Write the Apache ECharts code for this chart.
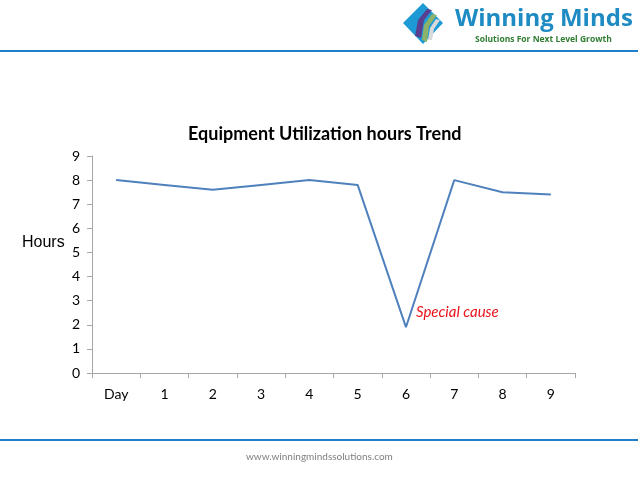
<!DOCTYPE html>
<html>
<head>
<meta charset="utf-8">
<script src="https://cdn.jsdelivr.net/npm/echarts@6/dist/echarts.min.js"></script>
<style>html,body{margin:0;padding:0;background:#fff;}#c{width:638px;height:478px;}</style>
</head>
<body>
<div id="c"></div>
<script>
var categories = ['Day', '1', '2', '3', '4', '5', '6', '7', '8', '9'];
var hours = [8.0, 7.8, 7.6, 7.8, 8.0, 7.8, 1.9, 8.0, 7.5, 7.4];
var yTicks = [0, 1, 2, 3, 4, 5, 6, 7, 8, 9];
var specialIndex = 6;
var specialText = 'Special cause';

var chart = echarts.init(document.getElementById('c'));
var font = 'Lato, "Open Sans", sans-serif';
chart.setOption({
  animation: false,
  title: {
    text: 'Equipment Utilization hours Trend', left: 183, top: 120,
    textStyle: { fontFamily: font, fontWeight: 'bold', fontSize: 18, color: '#000' }
  },
  grid: { left: 92, right: 63, top: 156, bottom: 105 },
  xAxis: {
    type: 'category', data: categories, boundaryGap: true,
    axisLine: { lineStyle: { color: '#A6A6A6' } },
    axisTick: { show: true, length: 5, lineStyle: { color: '#A6A6A6' } },
    axisLabel: { color: '#000', fontSize: 14, fontFamily: font, margin: 14 }
  },
  yAxis: {
    type: 'value', min: yTicks[0], max: yTicks[yTicks.length - 1], interval: 1,
    splitLine: { show: false },
    axisLine: { show: true, lineStyle: { color: '#A6A6A6' } },
    axisTick: { show: true, length: 5, lineStyle: { color: '#A6A6A6' } },
    axisLabel: { color: '#000', fontSize: 14, fontFamily: font, margin: 12 }
  },
  series: [{
    type: 'line', data: hours, symbol: 'none',
    lineStyle: { color: '#4F81BD', width: 2 },
    markPoint: {
      symbol: 'circle', symbolSize: 2,
      itemStyle: { color: 'rgba(0,0,0,0)' },
      data: [{
        coord: [specialIndex, hours[specialIndex]],
        label: {
          show: true, position: 'right', distance: 9, offset: [0, -15],
          formatter: specialText, color: '#E8141B', fontStyle: 'italic',
          fontSize: 15, fontFamily: font
        }
      }]
    }
  }],
  graphic: [
    { type: 'rect', shape: { x: 0, y: 50, width: 638, height: 2 }, style: { fill: '#1E7FCB' } },
    { type: 'rect', shape: { x: 0, y: 439, width: 638, height: 2 }, style: { fill: '#1E7FCB' } },
    { type: 'text', left: 246, top: 452, style: { text: 'www.winningmindssolutions.com', fill: '#7F7F7F', fontSize: 10, fontFamily: font } },
    { type: 'text', left: 22, top: 235, style: { text: 'Hours', fill: '#000', fontSize: 16, fontFamily: '"Liberation Sans", Arial, sans-serif' } },
    { type: 'polygon', shape: { points: [[423, 3], [443, 23], [423, 44], [403, 23]] }, style: { fill: '#1D9AD6' } },
    { type: 'polygon', shape: { points: [[415, 36], [418, 20], [427, 9], [432, 10], [424, 20], [421, 38]] }, style: { fill: '#5B3F8F' } },
    { type: 'polygon', shape: { points: [[422, 40], [424, 25], [432, 14], [437, 15], [429, 26], [427, 42]] }, style: { fill: '#8DB36A' } },
    { type: 'polygon', shape: { points: [[428, 40], [430, 28], [436, 19], [440, 20], [434, 29], [432, 40]] }, style: { fill: '#D9D9D9' } },
    { type: 'text', left: 455, top: 7, style: { text: 'Winning Minds', fill: '#1E8BC3', fontSize: 24, fontWeight: 'bold', fontFamily: '"Open Sans", Lato, sans-serif' } },
    { type: 'text', left: 475, top: 35, style: { text: 'Solutions For Next Level Growth', fill: '#2E7D32', fontSize: 8.5, fontWeight: 'bold', fontFamily: '"Open Sans", Lato, sans-serif' } }
  ]
});
</script>
</body>
</html>
